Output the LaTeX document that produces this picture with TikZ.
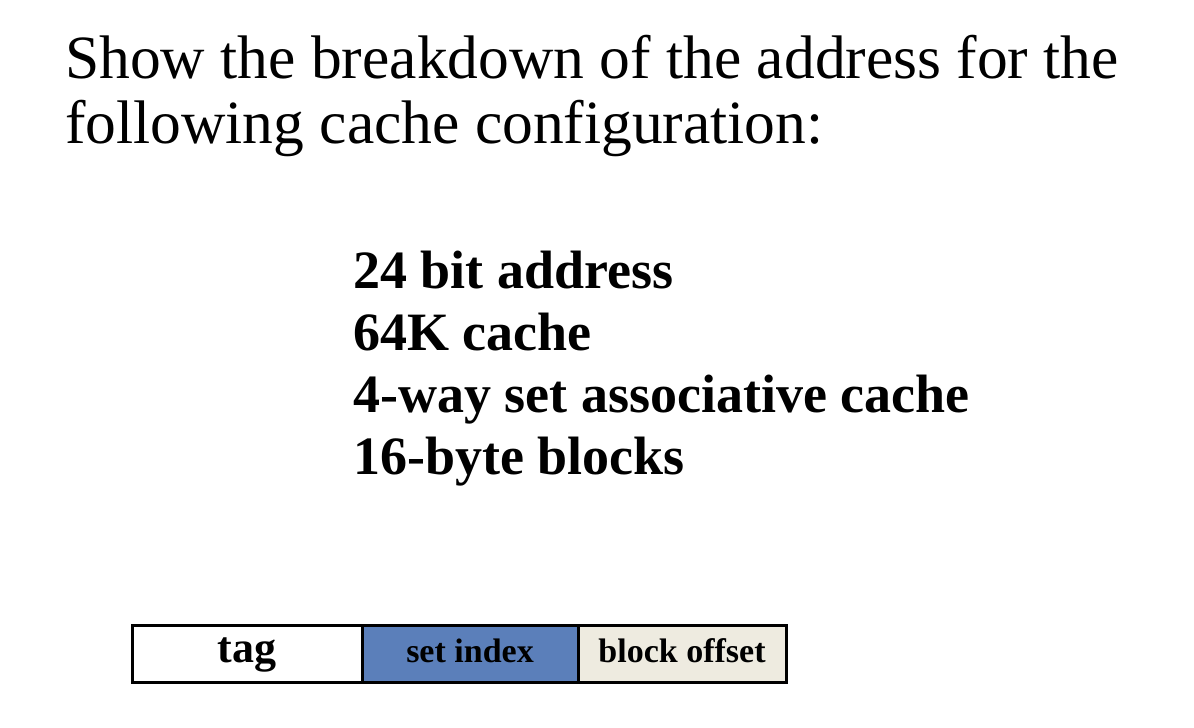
\documentclass[tikz,border=0pt]{standalone}
\usepackage{fontspec}
\setmainfont{Liberation Serif}
\definecolor{setblue}{HTML}{5B7FBA}
\definecolor{offbeige}{HTML}{EEEBE0}
\begin{document}
\begin{tikzpicture}[x=1pt,y=-1pt,
  title/.style={anchor=base west,inner sep=0pt,font=\fontsize{61.5}{66}\selectfont},
  item/.style={anchor=base west,inner sep=0pt,font=\fontsize{54}{58}\selectfont\bfseries},
  field/.style={draw=black,line width=3pt,minimum height=57pt,inner sep=0pt,text height=24pt,text depth=8pt,font=\fontsize{34}{36}\selectfont\bfseries}]
\useasboundingbox (0,0) rectangle (1194,728);
\node[title] (t1) at (65,78) {Show the breakdown of the address for the};
\node[title] (t2) at (65,143) {following cache configuration:};
\node[item] (i1) at (353,288) {24 bit address};
\node[item] (i2) at (353,350) {64K cache};
\node[item] (i3) at (353,412) {4-way set associative cache};
\node[item] (i4) at (353,474) {16-byte blocks};
\node[field,fill=white,minimum width=230pt,anchor=west,font=\fontsize{44}{46}\selectfont\bfseries] (tag) at (130.5,654) {tag};
\node[field,fill=setblue,minimum width=216pt,anchor=west] (set) at ([xshift=-3pt]tag.east) {set index};
\node[field,fill=offbeige,minimum width=208pt,anchor=west] (off) at ([xshift=-3pt]set.east) {block offset};
\end{tikzpicture}
\end{document}
